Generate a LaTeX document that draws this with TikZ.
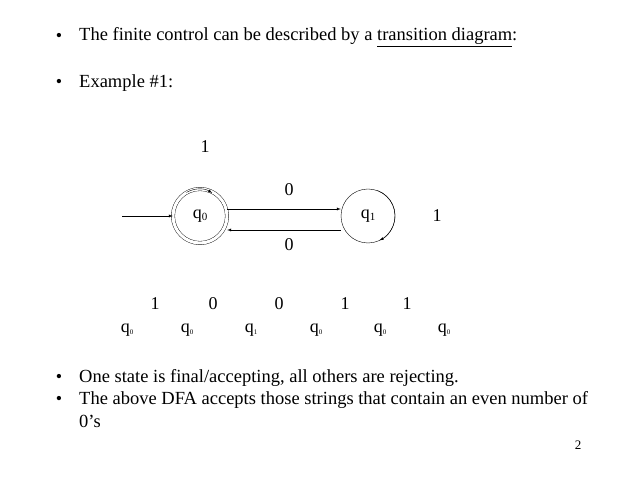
\documentclass[tikz,border=0pt]{standalone}
\usepackage{fontspec}
\setmainfont{Liberation Serif}
\begin{document}
\begin{tikzpicture}[x=1pt,y=-1pt,
  txt/.style={anchor=west,inner sep=0pt,font=\fontsize{18.5}{20}\selectfont},
  lbl/.style={inner sep=0pt,font=\fontsize{18}{20}\selectfont},
  st/.style={circle,draw,thin,minimum size=54pt,inner sep=0pt,font=\fontsize{18}{20}\selectfont},
  ar/.style={-latex,thin}]
\useasboundingbox[fill=white] (0,0) rectangle (638,478);
\node[lbl] (b1) at (59,37) {•};
\node[txt] (t1) at (79,37) {The finite control can be described by a \underline{transition diagram}:};
\node[lbl] (b2) at (59,83) {•};
\node[txt] (t2) at (79,83) {Example \#1:};
\node[st,double,double distance=3pt,minimum size=54pt] (q0) at (200,216) {q\raisebox{-2pt}{\fontsize{11}{12}\selectfont 0}};
\node[st] (q1) at (368,216) {q\raisebox{-2pt}{\fontsize{11}{12}\selectfont 1}};
\coordinate (s) at (122,216);
\draw[ar] (s) -- (q0.west);
\draw[ar] ([yshift=7pt]q0.east) -- ([yshift=7pt]q1.west);
\draw[ar] ([yshift=-14pt]q1.west) -- ([yshift=-14pt]q0.east);
\draw[ar] (q0.120) arc[start angle=-120,end angle=-58,radius=25];
\draw[ar] (q1.70) arc[start angle=-70,end angle=65,radius=27];
\node[lbl] (l1) at (205,147) {1};
\node[lbl] (l2) at (289,190) {0};
\node[lbl] (l3) at (289,245) {0};
\node[lbl] (l4) at (437,216) {1};
\foreach \x/\s [count=\i] in {127/0,187/0,251/1,316/0,380/0,444/0}
  \node[lbl] (r\i) at (\x,330) {q\raisebox{-2pt}{\fontsize{7}{8}\selectfont\s}};
\foreach \x/\d [count=\i] in {155/1,213/0,279/0,345/1,407/1}
  \node[lbl] (d\i) at (\x,304) {\d};
\node[lbl] (b3) at (59,378) {•};
\node[txt] (t3) at (79,378) {One state is final/accepting, all others are rejecting.};
\node[lbl] (b4) at (59,400) {•};
\node[txt] (t4) at (79,400) {The above DFA accepts those strings that contain an even number of};
\node[txt] (t5) at (79,421) {0’s};
\node[inner sep=0pt,font=\fontsize{13}{14}\selectfont] (pg) at (578,445) {2};
\end{tikzpicture}
\end{document}
